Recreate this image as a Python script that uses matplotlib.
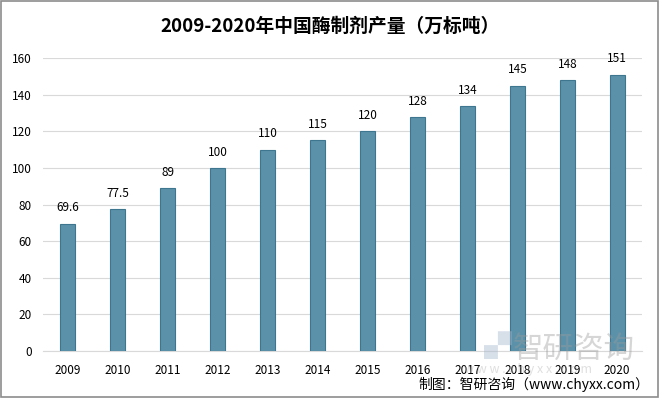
import matplotlib.pyplot as plt
from matplotlib.patches import Rectangle

plt.rcParams['font.family'] = ['Noto Sans CJK SC', 'DejaVu Sans']

# data
years = ['2009', '2010', '2011', '2012', '2013', '2014', '2015', '2016',
         '2017', '2018', '2019', '2020']
output = [69.6, 77.5, 89, 100, 110, 115, 120, 128, 134, 145, 148, 151]
labels = ['69.6', '77.5', '89', '100', '110', '115', '120', '128', '134',
          '145', '148', '151']
yticks = [0, 20, 40, 60, 80, 100, 120, 140, 160]

fig = plt.figure(figsize=(6.6, 3.98), dpi=100)
ax = fig.add_axes([0.065, 0.118, 0.908, 0.736])

x = range(len(years))
ax.bar(x, output, width=0.3, color='#5B92AA', edgecolor='#3E7690',
       linewidth=0.8, zorder=3)
for i, v in enumerate(output):
    ax.text(i, v + 5, labels[i], ha='center', va='bottom', fontsize=8.5,
            color='black')

ax.set_xlim(-0.5, len(years) - 0.5)
ax.set_ylim(0, 160)
ax.set_yticks(yticks)
ax.set_xticks(list(x))
ax.set_xticklabels(years)
ax.tick_params(axis='both', length=0, labelsize=8.5, colors='black')
ax.tick_params(axis='x', pad=9)
ax.tick_params(axis='y', pad=8)
ax.grid(axis='y', color='#D9D9D9', linewidth=0.8, zorder=0)
for side in ['top', 'right', 'left']:
    ax.spines[side].set_visible(False)
ax.spines['bottom'].set_color('#D9D9D9')

fig.text(0.5, 0.935, '2009-2020年中国酶制剂产量（万标吨）', ha='center',
         va='center', fontsize=13.5, fontweight='bold')

# watermark
fig.text(0.755, 0.125, '▞', ha='center', va='center', fontsize=20,
         color='#A8B8D0', alpha=0.45, zorder=5)
fig.text(0.87, 0.123, '智研咨询', ha='center', va='center', fontsize=22,
         color='#9A9A9A', alpha=0.4, zorder=5)
fig.text(0.80, 0.072, 'w w w . c h y x x . c o m', ha='center', va='center',
         fontsize=9, color='#B0B0B0', alpha=0.4)

fig.text(0.984, 0.035, '制图：智研咨询（www.chyxx.com）', ha='right',
         va='center', fontsize=10)

fig.patches.append(Rectangle((0.002, 0.003), 0.995, 0.994,
                             transform=fig.transFigure, fill=False,
                             edgecolor='#8C8C8C', linewidth=1.2))

fig.savefig('out.png', dpi=100)
